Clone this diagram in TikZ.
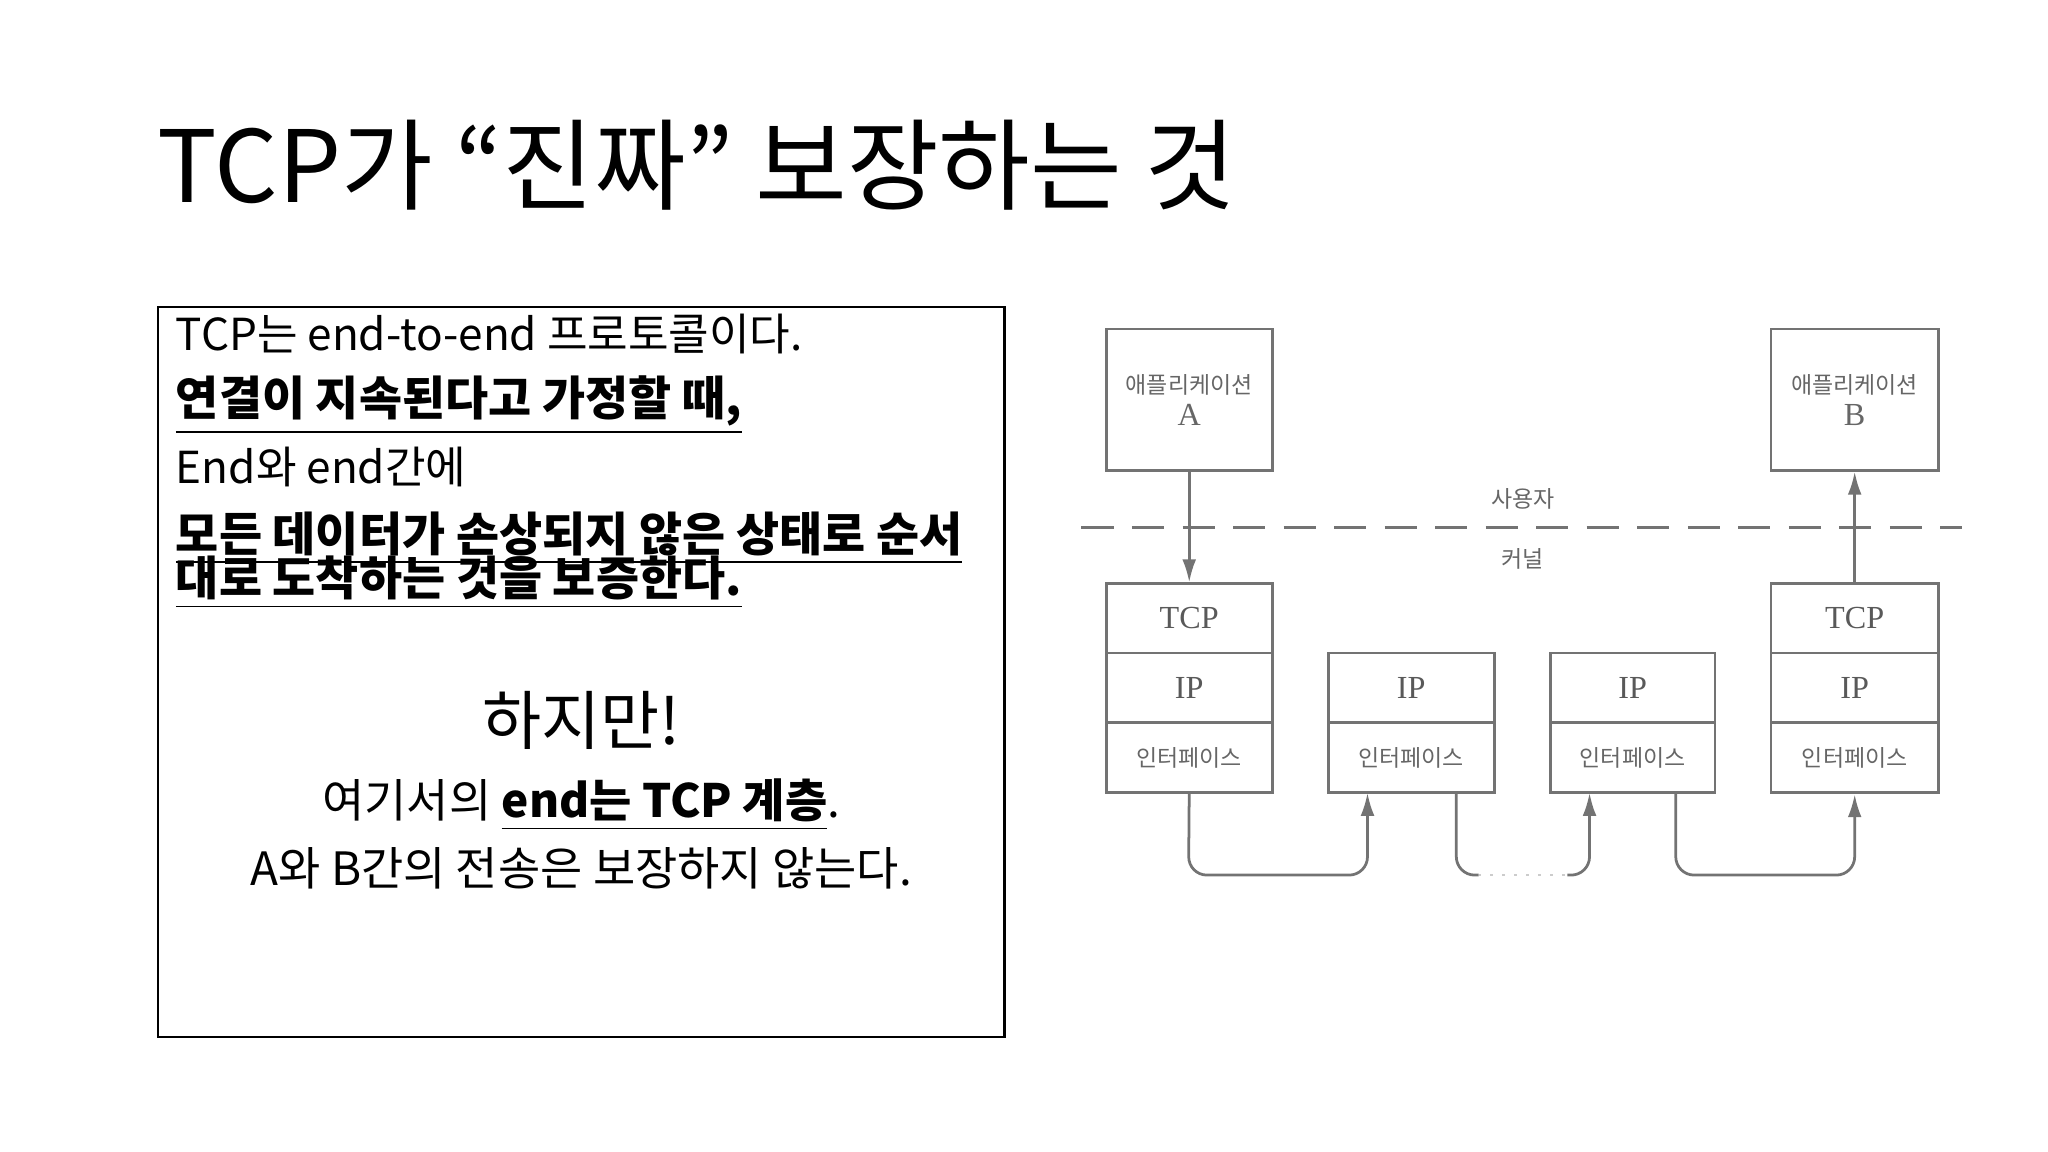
\documentclass[tikz,border=0pt]{standalone}
\usepackage{fontspec}
\setmainfont{Noto Sans CJK KR}
\newfontfamily\dserif{Liberation Serif}
\usetikzlibrary{arrows.meta}
\begin{document}
\begin{tikzpicture}[x=0.01cm,y=-0.01cm,
  txt/.style={anchor=base west,inner sep=0,font=\fontsize{9.6pt}{11pt}\selectfont},
  btxt/.style={anchor=base west,inner sep=0,font=\fontsize{10.2pt}{11pt}\selectfont\bfseries},
  ctxt/.style={anchor=base,inner sep=0,font=\fontsize{10pt}{11pt}\selectfont},
  dg/.style={draw=black!55,line width=0.6pt,inner sep=0},
  dlab/.style={text=black!60,font=\fontsize{5pt}{6pt}\selectfont},
  dser/.style={text=black!65,font=\dserif\fontsize{7pt}{8pt}\selectfont},
  arr/.style={dg,-{Latex[length=5pt,width=3pt]}}]
\useasboundingbox (0,0) rectangle (1568,882);
\node[anchor=base west,inner sep=0,font=\fontsize{21.7pt}{26pt}\selectfont] (title) at (120,155) {TCP가 “진짜” 보장하는 것};
\draw[line width=0.6pt] (121,235) rectangle (769,794);
\node[txt] (l1) at (134,268) {TCP는 end-to-end 프로토콜이다.};
\node[btxt] (l2) at (134,318) {\underline{연결이 지속된다고 가정할 때,}};
\node[txt] (l3) at (134,370) {End와 end간에};
\node[btxt] (l4) at (134,422) {\underline{모든 데이터가 손상되지 않은 상태로 순서}};
\node[btxt] (l5) at (134,456) {\underline{대로 도착하는 것을 보증한다.}};
\node[anchor=base,inner sep=0,font=\fontsize{14pt}{16pt}\selectfont] (hm) at (445,570) {하지만!};
\node[ctxt] (l6) at (445,626) {여기서의 \textbf{\underline{end는 TCP 계층}}.};
\node[ctxt] (l7) at (445,678) {A와 B간의 전송은 보장하지 않는다.};
% diagram
\node[dg,minimum width=1.27cm,minimum height=1.08cm,dlab,align=center] (appA) at (910.5,306) {애플리케이션\\[1pt]{\dserif\fontsize{7pt}{8pt}\selectfont A}};
\node[dg,minimum width=1.28cm,minimum height=1.08cm,dlab,align=center] (appB) at (1420,306) {애플리케이션\\[1pt]{\dserif\fontsize{7pt}{8pt}\selectfont B}};
\draw[dg,dashed,dash pattern=on 7pt off 4pt] (828,404) coordinate (dl) -- (1502,404) coordinate (dr);
\node[dlab] (user) at (1166,382) {사용자};
\node[dlab] (kern) at (1166,428) {커널};
% stacks
\foreach \n/\x/\w in {L/910.5/1.27cm,R/1420/1.28cm}{
  \node[dg,minimum width=\w,minimum height=0.53cm,dser] (tcp\n) at (\x,473.5) {TCP};
}
\foreach \n/\x/\w in {L/910.5/1.27cm,M/1080.5/1.27cm,N/1250/1.26cm,R/1420/1.28cm}{
  \node[dg,minimum width=\w,minimum height=0.53cm,dser] (ip\n) at (\x,526.5) {IP};
  \node[dg,minimum width=\w,minimum height=0.54cm,dlab] (if\n) at (\x,580) {인터페이스};
}
\coordinate (c1) at (910,670); \coordinate (c2) at (1047,670);
\coordinate (c3) at (1115,670); \coordinate (c4) at (1217,670);
\coordinate (c5) at (1283,670); \coordinate (c6) at (1420,670);
\draw[arr] (appA.south) -- (tcpL.north);
\draw[arr] (tcpR.north) -- (appB.south);
\draw[arr,rounded corners=4pt] (ifL.south) -- (c1) -- (c2) -- (1047,607);
\draw[dg,rounded corners=4pt] (1115,607) -- (c3) -- (1132,670);
\draw[dg,draw=black!20,dotted] (1132,670) -- (1200,670);
\draw[arr,rounded corners=4pt] (1200,670) -- (c4) -- (1217,607);
\draw[arr,rounded corners=4pt] (1283,607) -- (c5) -- (c6) -- (ifR.south);
\end{tikzpicture}
\end{document}
